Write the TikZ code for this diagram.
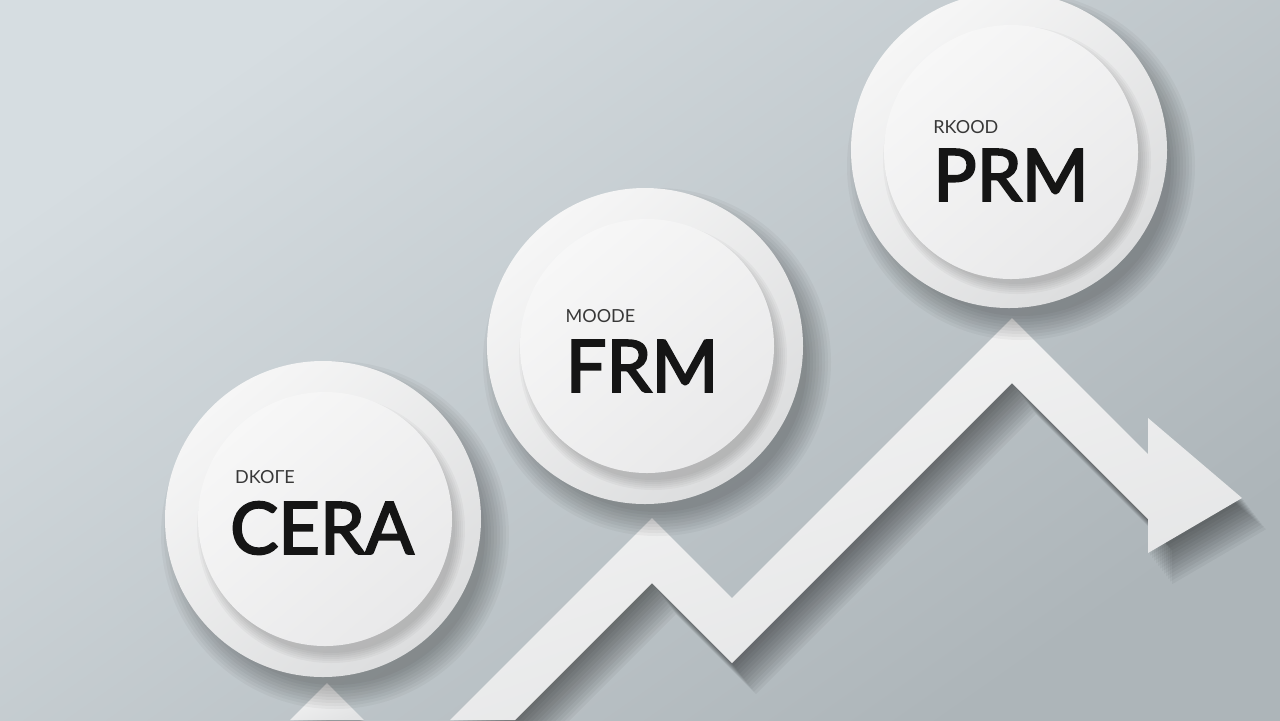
\documentclass[tikz,border=0pt]{standalone}
\usepackage{fontspec}
\setmainfont{Lato}
\newfontfamily\namefont[FakeBold=2.8]{Lato}
\usepackage{xcolor}
\usepackage{tikz}
\usetikzlibrary{positioning, calc}

\definecolor{bgtop}{HTML}{D6DDE1}
\definecolor{bgbot}{HTML}{ADB5B9}
\definecolor{ringlight}{HTML}{F6F6F6}
\definecolor{ringdark}{HTML}{DCDDDE}
\definecolor{disklight}{HTML}{F7F7F7}
\definecolor{diskdark}{HTML}{E9E9EA}
\definecolor{bandlight}{HTML}{F5F5F5}
\definecolor{banddark}{HTML}{E2E3E4}
\definecolor{inkblack}{HTML}{151515}

% zigzag band, pixel coordinates
\newcommand{\bandpath}{(450,720) -- (652,518) -- (732,598) -- (1012,318) -- (1148,454)
  -- (1148,418) -- (1242,498) -- (1148,553) -- (1148,519) -- (1012,383)
  -- (732,663) -- (652,583) -- (515,720) -- cycle}

\begin{document}
\begin{tikzpicture}[
            x=0.5pt, y=-0.5pt,                 % one unit = one pixel
            ring/.style={circle, minimum size=158pt, inner sep=0pt,
                         top color=ringlight, bottom color=ringdark, shading angle=40},
            disk/.style={circle, minimum size=127pt, inner sep=0pt,
                         top color=disklight, bottom color=diskdark, shading angle=40},
            bigname/.style={inner sep=0pt, text=inkblack, font=\namefont\fontsize{36}{40}\selectfont},
            tag/.style={inner sep=0pt, text=inkblack!85, font=\fontsize{9}{10}\selectfont},
            softshade/.style={fill=black, opacity=0.035},
            bandstyle/.style={top color=bandlight, bottom color=banddark, shading angle=20}
          ]
  \useasboundingbox (0,0) rectangle (1280,720);
  \clip (0,0) rectangle (1280,720);

  % background
  \shade[top color=bgtop, bottom color=bgbot, shading angle=35] (0,0) rectangle (1280,720);

  % band shadow and band
  \foreach \d in {2,4,...,24}
    \fill[softshade, opacity=0.045, shift={(\d,1.3*\d)}] \bandpath;
  \foreach \d in {2,4,...,16}
    \fill[softshade, shift={(\d,1.3*\d)}] (290,720) -- (327,683) -- (364,720) -- cycle;
  \shade[bandstyle] \bandpath;
  \shade[bandstyle] (290,720) -- (327,683) -- (364,720) -- cycle;

  % rings
  \coordinate (cerac) at (323,519);
  \coordinate (frmc) at (645,346);
  \coordinate (prmc) at (1009,150);
  \foreach \c in {cerac, frmc, prmc}
    \foreach \s in {0,3,...,24}
      \fill[softshade] ($(\c)+(12,16)$) circle [radius=150+\s];
  \node[ring] (cera) at (cerac) {};
  \node[ring] (frm) at (frmc) {};
  \node[ring] (prm) at (prmc) {};

  % inner disks
  \foreach \c in {cera, frm, prm}
    \foreach \s in {0,2,...,10}
      \fill[fill=black, opacity=0.03] ($(\c)+(8,10)$) circle [radius=124+\s];
  \node[disk] (ceradisk) at ($(cera)+(2,0)$) {};
  \node[disk] (frmdisk) at ($(frm)+(2,0)$) {};
  \node[disk] (prmdisk) at ($(prm)+(2,2)$) {};

  % names
  \node[bigname] (ceraname) at (322,528) {CERA};
  \node[bigname] (frmname) at (642,366) {FRM};
  \node[bigname] (prmname) at (1011,175) {PRM};
  \node[tag, above=8.5pt of ceraname.north west, anchor=south west, xshift=2.5pt] (ceratag) {DKOΓE};
  \node[tag, above=8.5pt of frmname.north west, anchor=south west] (frmtag) {MOODE};
  \node[tag, above=7.5pt of prmname.north west, anchor=south west] (prmtag) {RKOOD};
\end{tikzpicture}
\end{document}
